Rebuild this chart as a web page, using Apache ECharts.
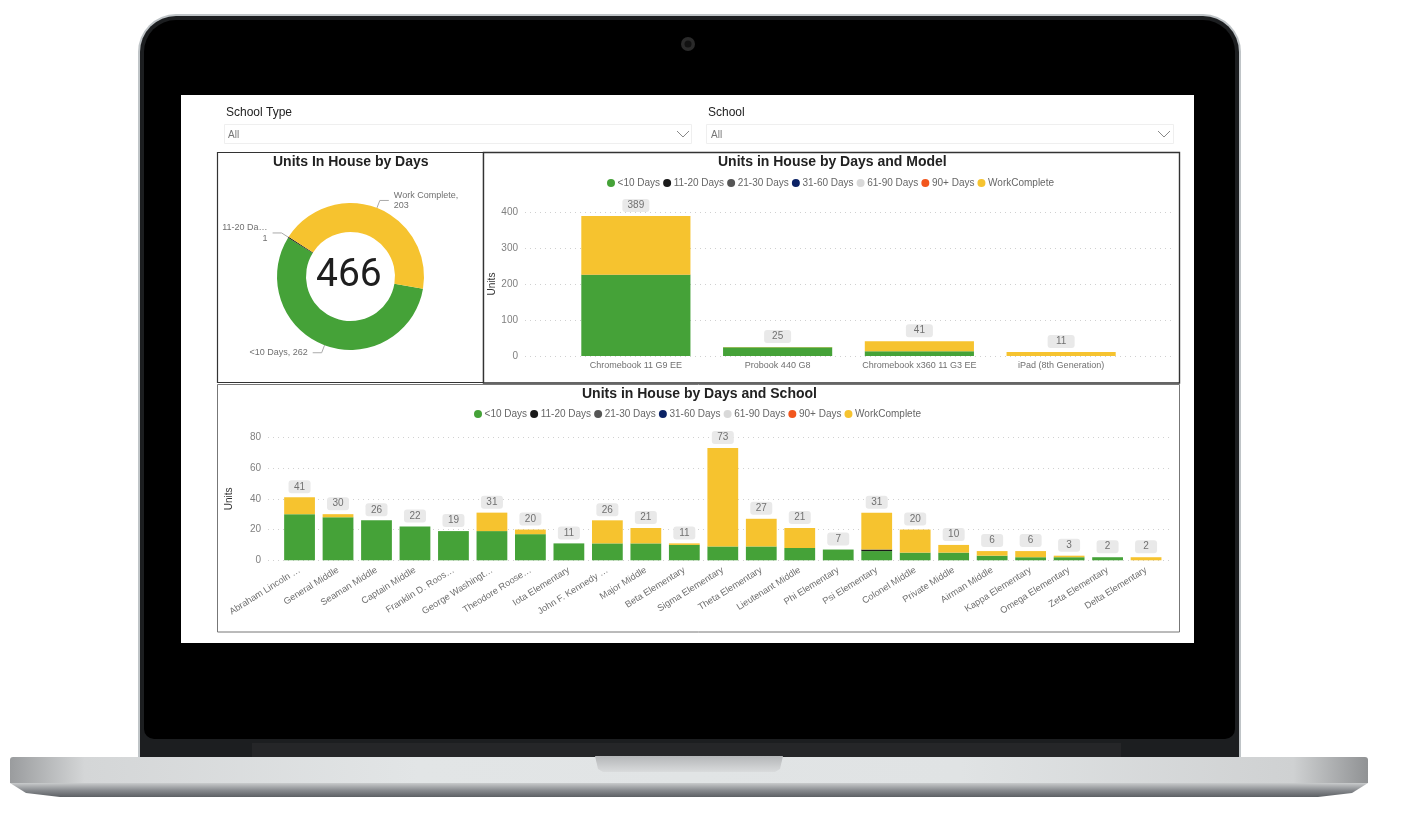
<!DOCTYPE html>
<html><head><meta charset="utf-8">
<style>html,body{margin:0;padding:0;background:#fff}#c{width:1402px;height:820px}</style>
<script src="https://cdn.jsdelivr.net/npm/echarts@6/dist/echarts.min.js"></script>
</head><body><div id="c"></div>
<script>
const seriesNames = ['<10 Days','11-20 Days','21-30 Days','31-60 Days','61-90 Days','90+ Days','WorkComplete'];
const seriesColors = ['#45A238','#1A1A1A','#555555','#0B2265','#D9D9D9','#F2561D','#F6C32F'];

const donutNames = ['<10 Days','11-20 Da…','Work Complete'];
const donutValues = [262,1,203];
const donutTotal = '466';

const modelCats = ['Chromebook 11 G9 EE','Probook 440 G8','Chromebook x360 11 G3 EE','iPad (8th Generation)'];
const modelUnder10 = [225,24,13,null];
const model11to20 = [1,null,null,null];
const modelWork = [163,1,28,11];
const modelTotals = [389,25,41,11];

const schoolCats = ['Abraham Lincoln …','General Middle','Seaman Middle','Captain Middle','Franklin D. Roos…','George Washingt…','Theodore Roose…','Iota Elementary','John F. Kennedy …','Major Middle','Beta Elementary','Sigma Elementary','Theta Elementary','Lieutenant Middle','Phi Elementary','Psi Elementary','Colonel Middle','Private Middle','Airman Middle','Kappa Elementary','Omega Elementary','Zeta Elementary','Delta Elementary'];
const schoolUnder10 = [30,28,26,22,19,19,17,11,11,11,10,9,9,8,7,6,5,5,3,2,2,2,null];
const school11to20 = [null,null,null,null,null,null,null,null,null,null,null,null,null,null,null,1,null,null,null,null,null,null,null];
const schoolWork = [11,2,null,null,null,12,3,null,15,10,1,64,18,13,null,24,15,5,3,4,1,null,2];
const schoolTotals = [41,30,26,22,19,31,20,11,26,21,11,73,27,21,7,31,20,10,6,6,3,2,2];

const F = '"Liberation Sans", Arial, sans-serif';
const G = '#707070';

function bar(name, data, color, axis, stack, width){
  return {type:'bar',name,data,stack,barWidth:width,xAxisIndex:axis,yAxisIndex:axis,
    itemStyle:{color},silent:true};
}
function totals(data, axis, fs, w){
  return {type:'line',name:'Total',data,xAxisIndex:axis,yAxisIndex:axis,symbol:'circle',symbolSize:0,
    lineStyle:{width:0,opacity:0},itemStyle:{color:'transparent'},silent:true,z:5,
    label:{show:true,position:'top',distance:4,color:G,fontFamily:F,fontSize:fs,
      backgroundColor:'#E9E9E9',borderRadius:3,width:w,align:'center',height:13,lineHeight:13}};
}
const chrome = [
  // lid
  {type:'rect',shape:{x:138,y:14,width:1103,height:760,r:[38,38,0,0]},style:{fill:'#BFC4C7'}},
  {type:'rect',shape:{x:140,y:16,width:1099,height:756,r:[36,36,0,0]},style:{fill:'#1C1E20'}},
  {type:'rect',shape:{x:144,y:20,width:1091,height:719,r:[32,32,10,10]},style:{fill:'#000'}},
  {type:'rect',shape:{x:252,y:743,width:869,height:14},style:{fill:'#252628'}},
  {type:'circle',shape:{cx:688,cy:44,r:7},style:{fill:'#2A2A2A'}},
  {type:'circle',shape:{cx:688,cy:44,r:3.5},style:{fill:'#111'}},
  // base
  {type:'polygon',shape:{points:[[10,783],[1368,783],[1352,793],[1318,797],[60,797],[26,793]]},
    style:{fill:{type:'linear',x:0,y:0,x2:0,y2:1,colorStops:[{offset:0,color:'#C9CBCC'},{offset:.55,color:'#85888C'},{offset:1,color:'#5C6064'}]}}},
  {type:'rect',shape:{x:10,y:757,width:1358,height:26,r:[3,3,0,0]},
    style:{fill:{type:'linear',x:0,y:0,x2:1,y2:0,colorStops:[{offset:0,color:'#9A9C9E'},{offset:.055,color:'#D4D6D7'},{offset:.3,color:'#E2E5E6'},{offset:.7,color:'#E0E3E4'},{offset:.945,color:'#CFD1D2'},{offset:1,color:'#909294'}]}}},
  {type:'polygon',shape:{points:[[595,756],[783,756],[780,769],[775,772],[603,772],[598,769]]},
    style:{fill:{type:'linear',x:0,y:0,x2:0,y2:1,colorStops:[{offset:0,color:'#B4B6B8'},{offset:1,color:'#D9DBDC'}]}}},
  // report page
  {type:'rect',shape:{x:181,y:95,width:1013,height:548},style:{fill:'#fff'}},
  // slicers
  {type:'rect',shape:{x:224.5,y:124.5,width:467,height:19},style:{fill:'#fff',stroke:'#EFEFEF',lineWidth:1}},
  {type:'rect',shape:{x:706.5,y:124.5,width:467,height:19},style:{fill:'#fff',stroke:'#EFEFEF',lineWidth:1}},
  {type:'polyline',shape:{points:[[677,131],[683,137],[689,131]]},style:{stroke:'#888',fill:null,lineWidth:1}},
  {type:'polyline',shape:{points:[[1158,131],[1164,137],[1170,131]]},style:{stroke:'#888',fill:null,lineWidth:1}},
  // panels
  {type:'rect',shape:{x:217.5,y:152.5,width:266,height:230},style:{fill:'#fff',stroke:'#333',lineWidth:1.2}},
  {type:'rect',shape:{x:483.5,y:152.5,width:696,height:230.5},style:{fill:'#fff',stroke:'#333',lineWidth:1.4}},
  {type:'rect',shape:{x:217.5,y:384.5,width:962,height:247.5},style:{fill:'#fff',stroke:'#777',lineWidth:1}},
].map(e=>Object.assign(e,{silent:true,z:-10}));

function titleAt(text,left,top,o){return {text,left,top,padding:0,textStyle:Object.assign({fontFamily:F,fontSize:14,fontWeight:'bold',color:'#222'},o||{})};}
function legendAt(left,top){return {data:seriesNames,left,top,icon:'circle',itemWidth:8,itemHeight:8,itemGap:3,padding:0,selectedMode:false,
  textStyle:{fontFamily:F,fontSize:10,color:'#666',padding:[0,0,0,-2.4]}};}
function emptyX(i){return {type:'category',gridIndex:i,show:false,data:['']};}
function gridY(i,max,interval,gap){return {type:'value',gridIndex:i,min:0,max,interval,name:'Units',nameLocation:'middle',nameGap:gap,
  nameTextStyle:{fontFamily:F,fontSize:10,color:'#333'},axisLine:{show:false},axisTick:{show:false},
  axisLabel:{margin:7,fontFamily:F,fontSize:10,color:'#808080'},splitLine:{show:true,lineStyle:{type:[1,4],color:'#D0D0D0',width:1}}};}
function barY(i,max,interval){return {type:'value',gridIndex:i,min:0,max,interval,show:false,splitLine:{show:false}};}

const option = {
  animation:false,
  backgroundColor:'#fff',
  graphic:{elements:chrome},
  title:[
    titleAt('School Type',226,107,{fontSize:12,fontWeight:'normal'}),
    titleAt('School',708,107,{fontSize:12,fontWeight:'normal'}),
    titleAt('All',228,130,{fontSize:10,fontWeight:'normal',color:'#777'}),
    titleAt('All',711,130,{fontSize:10,fontWeight:'normal',color:'#777'}),
    titleAt('Units In House by Days',273,155),
    titleAt('Units in House by Days and Model',718,155),
    titleAt('Units in House by Days and School',582,387),
    titleAt(donutTotal,316,257,{fontFamily:'Roboto, "Noto Sans", sans-serif',fontSize:39,fontWeight:'normal',color:'#1E1E1E'}),
  ],
  legend:[legendAt(607,178),legendAt(474,409)],
  grid:[
    {left:525,width:650,top:212,height:144},
    {left:565,width:567,top:212,height:144},
    {left:268,width:905,top:437.3,height:123},
    {left:280.3,width:885,top:437.3,height:123},
  ],
  xAxis:[
    emptyX(0),
    {type:'category',gridIndex:1,data:modelCats,axisLine:{show:false},axisTick:{show:false},
      axisLabel:{margin:5,interval:0,fontFamily:F,fontSize:9,color:G}},
    emptyX(2),
    {type:'category',gridIndex:3,data:schoolCats,axisLine:{show:false},axisTick:{show:false},
      axisLabel:{margin:9,interval:0,rotate:32,fontFamily:F,fontSize:9.3,color:G}},
  ],
  yAxis:[gridY(0,400,100,21),barY(1,400,100),gridY(2,80,20,34),barY(3,80,20)],
  series:[
    {type:'pie',center:[350.5,276.5],radius:[44.5,73.5],startAngle:-9.5,clockwise:true,avoidLabelOverlap:false,silent:true,
      minShowLabelAngle:0,
      data:donutNames.map((name,i)=>({name,value:donutValues[i],itemStyle:{color:[seriesColors[0],seriesColors[1],seriesColors[6]][i]}})),
      label:{show:true,fontFamily:F,fontSize:9,lineHeight:10.5,color:G,
        formatter:p=>p.dataIndex===0?p.name+', '+p.value:(p.dataIndex===1?p.name+'\n'+p.value:p.name+',\n'+p.value)},
      labelLine:{show:true,length:8,length2:9,lineStyle:{color:'#AAA',width:1}}},
    bar(seriesNames[0],modelUnder10,seriesColors[0],1,'m','77%'),
    bar(seriesNames[1],model11to20,seriesColors[1],1,'m','77%'),
    bar(seriesNames[6],modelWork,seriesColors[6],1,'m','77%'),
    totals(modelTotals,1,10,27),
    bar(seriesNames[0],schoolUnder10,seriesColors[0],3,'s','80%'),
    bar(seriesNames[1],school11to20,seriesColors[1],3,'s','80%'),
    bar(seriesNames[6],schoolWork,seriesColors[6],3,'s','80%'),
    totals(schoolTotals,3,10,22),
    bar(seriesNames[2],[],seriesColors[2],3,'s','80%'),
    bar(seriesNames[3],[],seriesColors[3],3,'s','80%'),
    bar(seriesNames[4],[],seriesColors[4],3,'s','80%'),
    bar(seriesNames[5],[],seriesColors[5],3,'s','80%'),
  ]
};
echarts.init(document.getElementById('c'),null,{renderer:'canvas'}).setOption(option);
</script></body></html>
